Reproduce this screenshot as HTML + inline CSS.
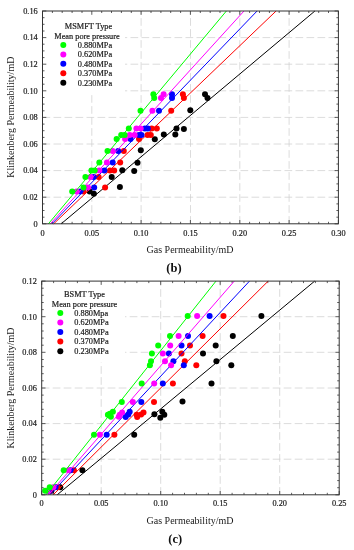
<!DOCTYPE html>
<html lang="en"><head><meta charset="utf-8"><title>Klinkenberg Permeability vs Gas Permeability</title>
<style>html,body{margin:0;padding:0;background:#fff}body{width:354px;height:550px;overflow:hidden}svg{display:block;font-family:"Liberation Serif",serif}</style></head><body>
<svg width="354" height="550" viewBox="0 0 354 550">
<rect width="354" height="550" fill="#fff"/>
<!-- chart (b) -->
<path d="M91.8 223.8V11.0M141.1 223.8V11.0M190.5 223.8V11.0M239.8 223.8V11.0M289.1 223.8V11.0M42.5 197.2H338.4M42.5 170.6H338.4M42.5 144.0H338.4M42.5 117.4H338.4M42.5 90.8H338.4M42.5 64.2H338.4M42.5 37.6H338.4" fill="none" stroke="#d0d0d0" stroke-width="0.75" stroke-dasharray="7.7 3.3"/>
<rect x="42.5" y="11" width="82.5" height="82" fill="#fff"/>
<path d="M42.5 223.8v-3.8M42.5 11.0v3.8M52.4 223.8v-2M52.4 11.0v2M62.2 223.8v-2M62.2 11.0v2M72.1 223.8v-2M72.1 11.0v2M82.0 223.8v-2M82.0 11.0v2M91.8 223.8v-3.8M91.8 11.0v3.8M101.7 223.8v-2M101.7 11.0v2M111.5 223.8v-2M111.5 11.0v2M121.4 223.8v-2M121.4 11.0v2M131.3 223.8v-2M131.3 11.0v2M141.1 223.8v-3.8M141.1 11.0v3.8M151.0 223.8v-2M151.0 11.0v2M160.9 223.8v-2M160.9 11.0v2M170.7 223.8v-2M170.7 11.0v2M180.6 223.8v-2M180.6 11.0v2M190.4 223.8v-3.8M190.4 11.0v3.8M200.3 223.8v-2M200.3 11.0v2M210.2 223.8v-2M210.2 11.0v2M220.0 223.8v-2M220.0 11.0v2M229.9 223.8v-2M229.9 11.0v2M239.8 223.8v-3.8M239.8 11.0v3.8M249.6 223.8v-2M249.6 11.0v2M259.5 223.8v-2M259.5 11.0v2M269.4 223.8v-2M269.4 11.0v2M279.2 223.8v-2M279.2 11.0v2M289.1 223.8v-3.8M289.1 11.0v3.8M298.9 223.8v-2M298.9 11.0v2M308.8 223.8v-2M308.8 11.0v2M318.7 223.8v-2M318.7 11.0v2M328.5 223.8v-2M328.5 11.0v2M338.4 223.8v-3.8M338.4 11.0v3.8M42.5 223.8h3.8M338.4 223.8h-3.8M42.5 217.2h2M338.4 217.2h-2M42.5 210.5h2M338.4 210.5h-2M42.5 203.9h2M338.4 203.9h-2M42.5 197.2h3.8M338.4 197.2h-3.8M42.5 190.6h2M338.4 190.6h-2M42.5 183.9h2M338.4 183.9h-2M42.5 177.2h2M338.4 177.2h-2M42.5 170.6h3.8M338.4 170.6h-3.8M42.5 164.0h2M338.4 164.0h-2M42.5 157.3h2M338.4 157.3h-2M42.5 150.7h2M338.4 150.7h-2M42.5 144.0h3.8M338.4 144.0h-3.8M42.5 137.4h2M338.4 137.4h-2M42.5 130.7h2M338.4 130.7h-2M42.5 124.1h2M338.4 124.1h-2M42.5 117.4h3.8M338.4 117.4h-3.8M42.5 110.8h2M338.4 110.8h-2M42.5 104.1h2M338.4 104.1h-2M42.5 97.5h2M338.4 97.5h-2M42.5 90.8h3.8M338.4 90.8h-3.8M42.5 84.2h2M338.4 84.2h-2M42.5 77.5h2M338.4 77.5h-2M42.5 70.8h2M338.4 70.8h-2M42.5 64.2h3.8M338.4 64.2h-3.8M42.5 57.6h2M338.4 57.6h-2M42.5 50.9h2M338.4 50.9h-2M42.5 44.2h2M338.4 44.2h-2M42.5 37.6h3.8M338.4 37.6h-3.8M42.5 31.0h2M338.4 31.0h-2M42.5 24.3h2M338.4 24.3h-2M42.5 17.7h2M338.4 17.7h-2M42.5 11.0h3.8M338.4 11.0h-3.8" fill="none" stroke="#333" stroke-width="0.8"/>
<g font-size="8.3" fill="#1a1a1a" stroke="#1a1a1a" stroke-width="0.2"><text x="42.5" y="235.6" text-anchor="middle">0</text><text x="91.8" y="235.6" text-anchor="middle">0.05</text><text x="141.1" y="235.6" text-anchor="middle">0.10</text><text x="190.5" y="235.6" text-anchor="middle">0.15</text><text x="239.8" y="235.6" text-anchor="middle">0.20</text><text x="289.1" y="235.6" text-anchor="middle">0.25</text><text x="338.4" y="235.6" text-anchor="middle">0.30</text><text x="37.7" y="226.6" text-anchor="end">0</text><text x="37.7" y="200.0" text-anchor="end">0.02</text><text x="37.7" y="173.4" text-anchor="end">0.04</text><text x="37.7" y="146.8" text-anchor="end">0.06</text><text x="37.7" y="120.2" text-anchor="end">0.08</text><text x="37.7" y="93.6" text-anchor="end">0.10</text><text x="37.7" y="67.0" text-anchor="end">0.12</text><text x="37.7" y="40.4" text-anchor="end">0.14</text><text x="37.7" y="13.8" text-anchor="end">0.16</text></g>
<g fill="#000000"><circle cx="89.7" cy="191.5" r="3"/><circle cx="93.9" cy="193.7" r="3"/><circle cx="119.9" cy="187.1" r="3"/><circle cx="111.7" cy="177.0" r="3"/><circle cx="122.3" cy="170.3" r="3"/><circle cx="134.2" cy="171.0" r="3"/><circle cx="137.5" cy="162.8" r="3"/><circle cx="140.8" cy="150.3" r="3"/><circle cx="154.8" cy="139.2" r="3"/><circle cx="163.8" cy="134.5" r="3"/><circle cx="175.3" cy="134.5" r="3"/><circle cx="176.5" cy="128.6" r="3"/><circle cx="183.9" cy="129.1" r="3"/><circle cx="190.3" cy="110.3" r="3"/><circle cx="205.0" cy="94.3" r="3"/><circle cx="207.5" cy="98.1" r="3"/><path d="M61.2 223.8L314.9 11" fill="none" stroke="#000000" stroke-width="1"/></g>
<g fill="#ff0000"><circle cx="83.5" cy="191.5" r="3"/><circle cx="105.1" cy="187.5" r="3"/><circle cx="98.6" cy="177.1" r="3"/><circle cx="110.0" cy="170.6" r="3"/><circle cx="114.2" cy="170.6" r="3"/><circle cx="120.2" cy="162.5" r="3"/><circle cx="123.8" cy="150.9" r="3"/><circle cx="139.0" cy="139.1" r="3"/><circle cx="147.5" cy="134.9" r="3"/><circle cx="150.8" cy="134.9" r="3"/><circle cx="151.7" cy="128.6" r="3"/><circle cx="156.8" cy="128.6" r="3"/><circle cx="171.2" cy="110.8" r="3"/><circle cx="182.9" cy="94.3" r="3"/><circle cx="183.9" cy="98.1" r="3"/><path d="M53.7 223.8L276.1 11" fill="none" stroke="#ff0000" stroke-width="1"/></g>
<g fill="#0000ff"><circle cx="80.1" cy="191.5" r="3"/><circle cx="94.2" cy="187.5" r="3"/><circle cx="93.6" cy="177.1" r="3"/><circle cx="104.4" cy="170.6" r="3"/><circle cx="112.7" cy="162.5" r="3"/><circle cx="118.2" cy="150.9" r="3"/><circle cx="130.5" cy="139.1" r="3"/><circle cx="139.0" cy="134.9" r="3"/><circle cx="141.5" cy="134.9" r="3"/><circle cx="144.9" cy="128.6" r="3"/><circle cx="147.8" cy="128.6" r="3"/><circle cx="159.0" cy="110.8" r="3"/><circle cx="172.0" cy="94.3" r="3"/><circle cx="172.0" cy="98.1" r="3"/><path d="M52 223.8L257.1 11" fill="none" stroke="#0000ff" stroke-width="1"/></g>
<g fill="#ff00ff"><circle cx="76.7" cy="191.5" r="3"/><circle cx="88.0" cy="187.5" r="3"/><circle cx="90.5" cy="177.1" r="3"/><circle cx="99.3" cy="170.6" r="3"/><circle cx="106.9" cy="162.5" r="3"/><circle cx="112.6" cy="150.9" r="3"/><circle cx="125.1" cy="139.1" r="3"/><circle cx="129.7" cy="134.9" r="3"/><circle cx="134.7" cy="134.9" r="3"/><circle cx="136.4" cy="128.6" r="3"/><circle cx="140.7" cy="128.6" r="3"/><circle cx="152.4" cy="110.8" r="3"/><circle cx="163.6" cy="94.3" r="3"/><circle cx="161.0" cy="98.1" r="3"/><path d="M50.3 223.8L244 11" fill="none" stroke="#ff00ff" stroke-width="1"/></g>
<g fill="#00ff00"><circle cx="72.2" cy="191.5" r="3"/><circle cx="83.5" cy="187.5" r="3"/><circle cx="85.4" cy="177.1" r="3"/><circle cx="91.4" cy="170.6" r="3"/><circle cx="94.7" cy="170.6" r="3"/><circle cx="99.3" cy="162.5" r="3"/><circle cx="107.5" cy="150.9" r="3"/><circle cx="116.6" cy="139.1" r="3"/><circle cx="121.2" cy="134.9" r="3"/><circle cx="124.6" cy="134.9" r="3"/><circle cx="128.8" cy="128.6" r="3"/><circle cx="140.5" cy="110.8" r="3"/><circle cx="153.4" cy="94.3" r="3"/><circle cx="154.2" cy="98.1" r="3"/><path d="M48.4 223.8L226.4 11" fill="none" stroke="#00ff00" stroke-width="1"/></g>
<rect x="42.5" y="11" width="295.9" height="212.8" fill="none" stroke="#333" stroke-width="1"/>
<g font-size="8.3" fill="#1a1a1a" stroke="#1a1a1a" stroke-width="0.2">
<text x="88.5" y="29" text-anchor="middle">MSMFT Type</text>
<text x="87" y="38.7" text-anchor="middle">Mean pore pressure</text>
<text x="77.8" y="47.8">0.880MPa</text>
<text x="77.8" y="57.3">0.620MPa</text>
<text x="77.8" y="66.6">0.480MPa</text>
<text x="77.8" y="76.1">0.370MPa</text>
<text x="77.8" y="85.6">0.230MPa</text>
</g>
<circle cx="63.3" cy="45" r="3" fill="#00ff00"/>
<circle cx="63.3" cy="54.5" r="3" fill="#ff00ff"/>
<circle cx="63.3" cy="63.8" r="3" fill="#0000ff"/>
<circle cx="63.3" cy="73.3" r="3" fill="#ff0000"/>
<circle cx="63.3" cy="82.8" r="3" fill="#000000"/>
<text x="190" y="253" font-size="10" fill="#1a1a1a" text-anchor="middle">Gas Permeability/mD</text>
<text transform="translate(13.9 117.2) rotate(-90)" font-size="10" fill="#1a1a1a" text-anchor="middle">Klinkenberg Permeability/mD</text>
<text x="174" y="272" font-size="12.5" font-weight="bold" fill="#111" text-anchor="middle">(b)</text>
<!-- chart (c) -->
<path d="M101.2 494.8V281.1M160.7 494.8V281.1M220.2 494.8V281.1M279.7 494.8V281.1M41.7 459.2H339.2M41.7 423.6H339.2M41.7 388.0H339.2M41.7 352.3H339.2M41.7 316.7H339.2" fill="none" stroke="#d0d0d0" stroke-width="0.75" stroke-dasharray="7.7 3.3"/>
<rect x="41.7" y="281.1" width="83.3" height="81.39999999999998" fill="#fff"/>
<path d="M41.7 494.8v-3.8M41.7 281.1v3.8M53.6 494.8v-2M53.6 281.1v2M65.5 494.8v-2M65.5 281.1v2M77.4 494.8v-2M77.4 281.1v2M89.3 494.8v-2M89.3 281.1v2M101.2 494.8v-3.8M101.2 281.1v3.8M113.1 494.8v-2M113.1 281.1v2M125.0 494.8v-2M125.0 281.1v2M136.9 494.8v-2M136.9 281.1v2M148.8 494.8v-2M148.8 281.1v2M160.7 494.8v-3.8M160.7 281.1v3.8M172.6 494.8v-2M172.6 281.1v2M184.5 494.8v-2M184.5 281.1v2M196.4 494.8v-2M196.4 281.1v2M208.3 494.8v-2M208.3 281.1v2M220.2 494.8v-3.8M220.2 281.1v3.8M232.1 494.8v-2M232.1 281.1v2M244.0 494.8v-2M244.0 281.1v2M255.9 494.8v-2M255.9 281.1v2M267.8 494.8v-2M267.8 281.1v2M279.7 494.8v-3.8M279.7 281.1v3.8M291.6 494.8v-2M291.6 281.1v2M303.5 494.8v-2M303.5 281.1v2M315.4 494.8v-2M315.4 281.1v2M327.3 494.8v-2M327.3 281.1v2M339.2 494.8v-3.8M339.2 281.1v3.8M41.7 494.8h3.8M339.2 494.8h-3.8M41.7 487.7h2M339.2 487.7h-2M41.7 480.6h2M339.2 480.6h-2M41.7 473.4h2M339.2 473.4h-2M41.7 466.3h2M339.2 466.3h-2M41.7 459.2h3.8M339.2 459.2h-3.8M41.7 452.1h2M339.2 452.1h-2M41.7 444.9h2M339.2 444.9h-2M41.7 437.8h2M339.2 437.8h-2M41.7 430.7h2M339.2 430.7h-2M41.7 423.6h3.8M339.2 423.6h-3.8M41.7 416.4h2M339.2 416.4h-2M41.7 409.3h2M339.2 409.3h-2M41.7 402.2h2M339.2 402.2h-2M41.7 395.1h2M339.2 395.1h-2M41.7 388.0h3.8M339.2 388.0h-3.8M41.7 380.8h2M339.2 380.8h-2M41.7 373.7h2M339.2 373.7h-2M41.7 366.6h2M339.2 366.6h-2M41.7 359.5h2M339.2 359.5h-2M41.7 352.3h3.8M339.2 352.3h-3.8M41.7 345.2h2M339.2 345.2h-2M41.7 338.1h2M339.2 338.1h-2M41.7 331.0h2M339.2 331.0h-2M41.7 323.8h2M339.2 323.8h-2M41.7 316.7h3.8M339.2 316.7h-3.8M41.7 309.6h2M339.2 309.6h-2M41.7 302.5h2M339.2 302.5h-2M41.7 295.3h2M339.2 295.3h-2M41.7 288.2h2M339.2 288.2h-2M41.7 281.1h3.8M339.2 281.1h-3.8" fill="none" stroke="#333" stroke-width="0.8"/>
<g font-size="8.3" fill="#1a1a1a" stroke="#1a1a1a" stroke-width="0.2"><text x="41.7" y="505.6" text-anchor="middle">0</text><text x="101.2" y="505.6" text-anchor="middle">0.05</text><text x="160.7" y="505.6" text-anchor="middle">0.10</text><text x="220.2" y="505.6" text-anchor="middle">0.15</text><text x="279.7" y="505.6" text-anchor="middle">0.20</text><text x="339.2" y="505.6" text-anchor="middle">0.25</text><text x="36.9" y="497.6" text-anchor="end">0</text><text x="36.9" y="462.0" text-anchor="end">0.02</text><text x="36.9" y="426.4" text-anchor="end">0.04</text><text x="36.9" y="390.8" text-anchor="end">0.06</text><text x="36.9" y="355.1" text-anchor="end">0.08</text><text x="36.9" y="319.5" text-anchor="end">0.10</text><text x="36.9" y="283.9" text-anchor="end">0.12</text></g>
<g fill="#000000"><circle cx="51.5" cy="490.8" r="3"/><circle cx="60.3" cy="487.3" r="3"/><circle cx="82.4" cy="470.2" r="3"/><circle cx="134.2" cy="434.7" r="3"/><circle cx="211.5" cy="383.6" r="3"/><circle cx="231.3" cy="365.3" r="3"/><circle cx="216.4" cy="361.2" r="3"/><circle cx="203.0" cy="353.5" r="3"/><circle cx="215.7" cy="345.5" r="3"/><circle cx="232.8" cy="336.0" r="3"/><circle cx="261.4" cy="316.0" r="3"/><circle cx="182.5" cy="401.6" r="3"/><circle cx="154.4" cy="414.2" r="3"/><circle cx="162.3" cy="411.8" r="3"/><circle cx="164.3" cy="414.8" r="3"/><circle cx="160.3" cy="417.7" r="3"/><path d="M57.2 494.8L314.7 281.1" fill="none" stroke="#000000" stroke-width="1"/></g>
<g fill="#ff0000"><circle cx="49.8" cy="490.8" r="3"/><circle cx="57.6" cy="487.3" r="3"/><circle cx="73.9" cy="470.2" r="3"/><circle cx="114.4" cy="434.7" r="3"/><circle cx="154.0" cy="401.9" r="3"/><circle cx="172.9" cy="383.6" r="3"/><circle cx="196.3" cy="365.3" r="3"/><circle cx="184.8" cy="361.2" r="3"/><circle cx="181.5" cy="353.5" r="3"/><circle cx="190.0" cy="345.5" r="3"/><circle cx="202.6" cy="336.0" r="3"/><circle cx="223.5" cy="316.0" r="3"/><circle cx="143.5" cy="412.4" r="3"/><circle cx="141.1" cy="414.4" r="3"/><circle cx="136.6" cy="414.8" r="3"/><circle cx="137.2" cy="417.1" r="3"/><path d="M53.2 494.8L268.2 281.1" fill="none" stroke="#ff0000" stroke-width="1"/></g>
<g fill="#0000ff"><circle cx="48.5" cy="490.8" r="3"/><circle cx="55.5" cy="487.3" r="3"/><circle cx="70.5" cy="470.2" r="3"/><circle cx="106.7" cy="434.7" r="3"/><circle cx="141.3" cy="401.9" r="3"/><circle cx="162.8" cy="383.6" r="3"/><circle cx="183.8" cy="365.3" r="3"/><circle cx="173.4" cy="361.2" r="3"/><circle cx="168.9" cy="353.5" r="3"/><circle cx="181.5" cy="345.5" r="3"/><circle cx="188.0" cy="336.0" r="3"/><circle cx="209.6" cy="316.0" r="3"/><circle cx="129.7" cy="411.8" r="3"/><circle cx="128.3" cy="414.4" r="3"/><circle cx="125.7" cy="417.1" r="3"/><path d="M49.9 494.8L249.5 281.1" fill="none" stroke="#0000ff" stroke-width="1"/></g>
<g fill="#ff00ff"><circle cx="47.5" cy="490.8" r="3"/><circle cx="53.4" cy="487.3" r="3"/><circle cx="68.5" cy="470.2" r="3"/><circle cx="99.9" cy="434.7" r="3"/><circle cx="132.8" cy="401.9" r="3"/><circle cx="154.2" cy="383.6" r="3"/><circle cx="171.1" cy="365.3" r="3"/><circle cx="165.0" cy="361.2" r="3"/><circle cx="162.8" cy="353.5" r="3"/><circle cx="170.2" cy="345.5" r="3"/><circle cx="178.6" cy="336.0" r="3"/><circle cx="197.1" cy="316.0" r="3"/><circle cx="122.1" cy="412.4" r="3"/><circle cx="119.8" cy="414.8" r="3"/><circle cx="118.8" cy="416.8" r="3"/><path d="M48.5 494.8L234.3 281.1" fill="none" stroke="#ff00ff" stroke-width="1"/></g>
<g fill="#00ff00"><circle cx="45.1" cy="490.8" r="3"/><circle cx="49.7" cy="487.3" r="3"/><circle cx="63.7" cy="470.2" r="3"/><circle cx="94.0" cy="434.7" r="3"/><circle cx="121.8" cy="401.9" r="3"/><circle cx="141.7" cy="383.6" r="3"/><circle cx="149.9" cy="365.3" r="3"/><circle cx="151.0" cy="361.2" r="3"/><circle cx="151.9" cy="353.5" r="3"/><circle cx="158.2" cy="345.5" r="3"/><circle cx="170.0" cy="336.0" r="3"/><circle cx="187.7" cy="316.0" r="3"/><circle cx="112.9" cy="411.8" r="3"/><circle cx="109.9" cy="413.8" r="3"/><circle cx="107.9" cy="414.8" r="3"/><circle cx="110.9" cy="416.8" r="3"/><path d="M46 494.8L216 281.1" fill="none" stroke="#00ff00" stroke-width="1"/></g>
<rect x="41.7" y="281.1" width="297.5" height="213.7" fill="none" stroke="#333" stroke-width="1"/>
<g font-size="8.3" fill="#1a1a1a" stroke="#1a1a1a" stroke-width="0.2">
<text x="84.5" y="297" text-anchor="middle">BSMT Type</text>
<text x="84.5" y="307" text-anchor="middle">Mean pore pressure</text>
<text x="74.3" y="315.8">0.880Mpa</text>
<text x="74.3" y="325.3">0.620MPa</text>
<text x="74.3" y="334.8">0.480MPa</text>
<text x="74.3" y="344.3">0.370MPa</text>
<text x="74.3" y="354.0">0.230MPa</text>
</g>
<circle cx="60.3" cy="313" r="3" fill="#00ff00"/>
<circle cx="60.3" cy="322.5" r="3" fill="#ff00ff"/>
<circle cx="60.3" cy="332" r="3" fill="#0000ff"/>
<circle cx="60.3" cy="341.5" r="3" fill="#ff0000"/>
<circle cx="60.3" cy="351.2" r="3" fill="#000000"/>
<text x="190" y="524" font-size="10" fill="#1a1a1a" text-anchor="middle">Gas Permeability/mD</text>
<text transform="translate(13.9 388) rotate(-90)" font-size="10" fill="#1a1a1a" text-anchor="middle">Klinkenberg Permeability/mD</text>
<text x="175.2" y="542.6" font-size="12.5" font-weight="bold" fill="#111" text-anchor="middle">(c)</text>
</svg></body></html>
